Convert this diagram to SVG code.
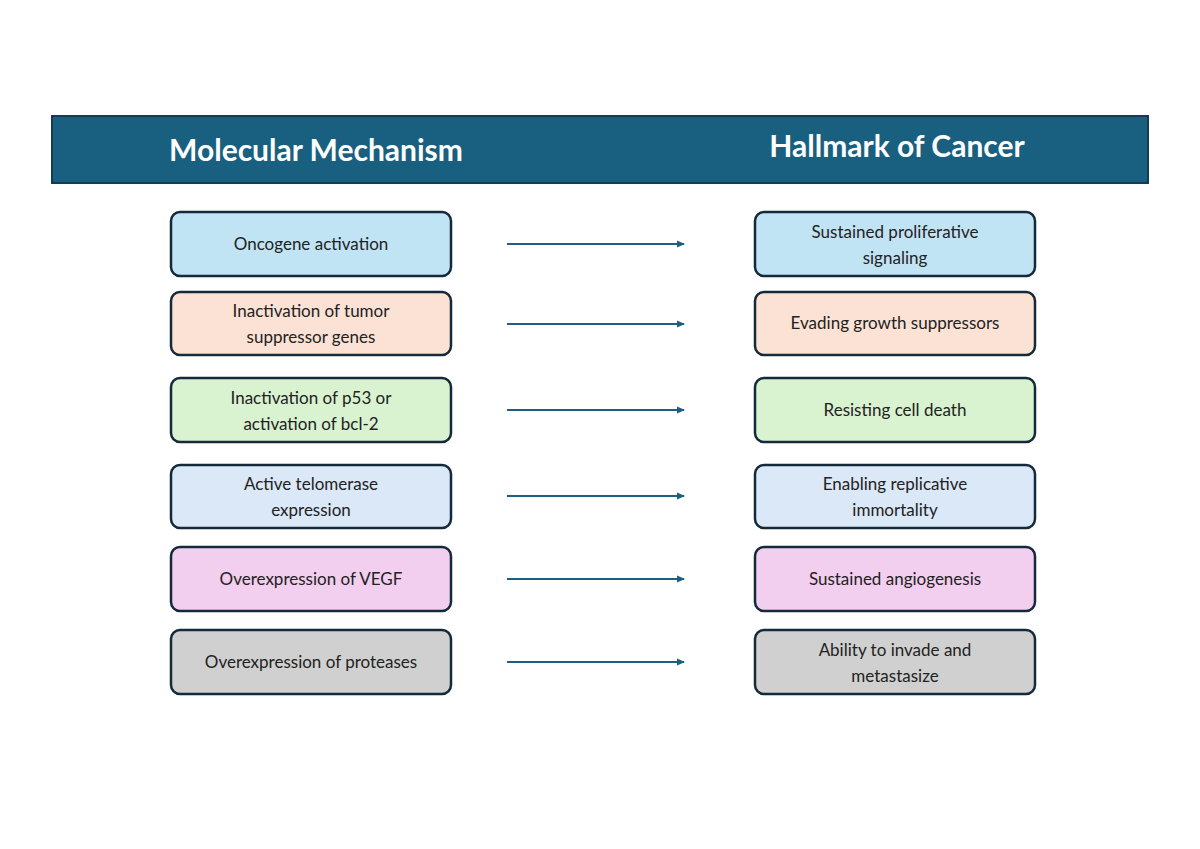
<svg xmlns="http://www.w3.org/2000/svg" width="1200" height="849" viewBox="0 0 1200 849">
<style>
.b{stroke:#14293a;stroke-width:2.5}
.t{font-family:"Lato","Liberation Sans",sans-serif;font-size:17px;fill:#222;text-anchor:middle}
.h{font-family:"Lato","Liberation Sans",sans-serif;font-size:30px;font-weight:bold;fill:#fff;text-anchor:middle}
.c{stroke:#1d5f80;stroke-width:2;marker-end:url(#a)}
</style>
<defs><marker id="a" markerWidth="8" markerHeight="8" refX="7" refY="4" orient="auto" markerUnits="userSpaceOnUse"><path d="M0,0.5L8,4L0,7.5Z" fill="#1d5f80"/></marker></defs>
<rect width="1200" height="849" fill="#fff"/>
<g id="header"><rect x="52" y="116" width="1096" height="67" fill="#185f80" stroke="#123d52" stroke-width="2"/>
<text class="h" x="316" y="161">Molecular Mechanism</text><text class="h" x="897" y="157">Hallmark of Cancer</text></g>
<g id="l1"><rect class="b" x="171" y="212" width="280" height="64" rx="9" fill="#c1e4f5"/><text class="t" x="311" y="250">Oncogene activation</text></g>
<g id="l2"><rect class="b" x="171" y="292" width="280" height="63" rx="9" fill="#fbe2d5"/><text class="t" x="311" y="317">Inactivation of tumor</text><text class="t" x="311" y="343">suppressor genes</text></g>
<g id="l3"><rect class="b" x="171" y="378" width="280" height="64" rx="9" fill="#d9f2d0"/><text class="t" x="311" y="404">Inactivation of p53 or</text><text class="t" x="311" y="430">activation of bcl-2</text></g>
<g id="l4"><rect class="b" x="171" y="465" width="280" height="63" rx="9" fill="#dae8f7"/><text class="t" x="311" y="490">Active telomerase</text><text class="t" x="311" y="516">expression</text></g>
<g id="l5"><rect class="b" x="171" y="547" width="280" height="64" rx="9" fill="#f2ceef"/><text class="t" x="311" y="585">Overexpression of VEGF</text></g>
<g id="l6"><rect class="b" x="171" y="630" width="280" height="64" rx="9" fill="#d0d0d0"/><text class="t" x="311" y="668">Overexpression of proteases</text></g>
<g id="r1"><rect class="b" x="755" y="212" width="280" height="64" rx="9" fill="#c1e4f5"/><text class="t" x="895" y="238">Sustained proliferative</text><text class="t" x="895" y="264">signaling</text></g>
<g id="r2"><rect class="b" x="755" y="292" width="280" height="63" rx="9" fill="#fbe2d5"/><text class="t" x="895" y="329">Evading growth suppressors</text></g>
<g id="r3"><rect class="b" x="755" y="378" width="280" height="64" rx="9" fill="#d9f2d0"/><text class="t" x="895" y="416">Resisting cell death</text></g>
<g id="r4"><rect class="b" x="755" y="465" width="280" height="63" rx="9" fill="#dae8f7"/><text class="t" x="895" y="490">Enabling replicative</text><text class="t" x="895" y="516">immortality</text></g>
<g id="r5"><rect class="b" x="755" y="547" width="280" height="64" rx="9" fill="#f2ceef"/><text class="t" x="895" y="585">Sustained angiogenesis</text></g>
<g id="r6"><rect class="b" x="755" y="630" width="280" height="64" rx="9" fill="#d0d0d0"/><text class="t" x="895" y="656">Ability to invade and</text><text class="t" x="895" y="682">metastasize</text></g>
<g id="connectors">
<line class="c" x1="507" y1="244" x2="684" y2="244"/>
<line class="c" x1="507" y1="324" x2="684" y2="324"/>
<line class="c" x1="507" y1="410" x2="684" y2="410"/>
<line class="c" x1="507" y1="496" x2="684" y2="496"/>
<line class="c" x1="507" y1="579" x2="684" y2="579"/>
<line class="c" x1="507" y1="662" x2="684" y2="662"/>
</g>
</svg>
